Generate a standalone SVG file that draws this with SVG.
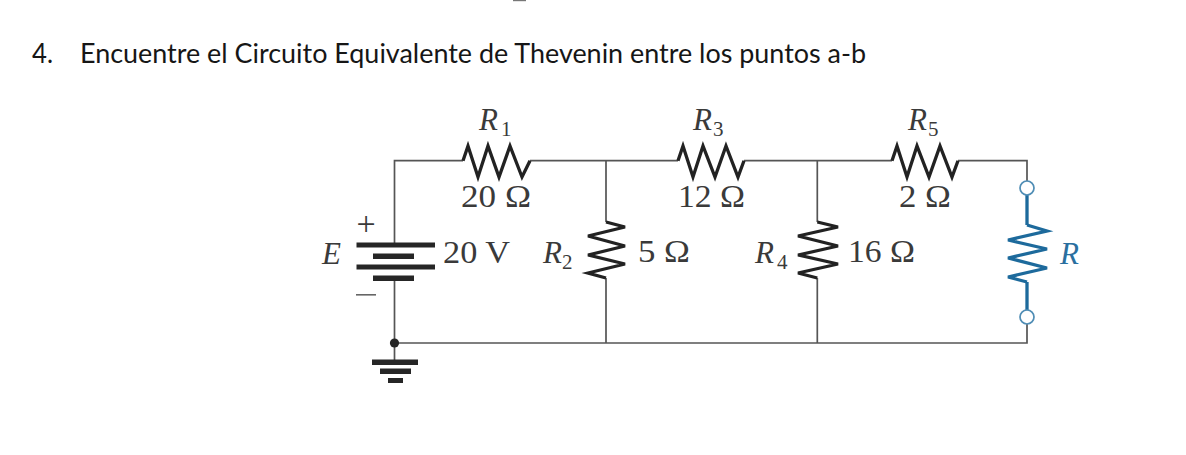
<svg xmlns="http://www.w3.org/2000/svg" width="1186" height="455" viewBox="0 0 1186 455">
<style>
text{font-family:"Liberation Serif","Times New Roman",serif;fill:#3a3a3a;font-size:31px}
.i{font-style:italic}
.s{font-size:21px}
.t{font-family:Lato,"Liberation Sans",sans-serif;font-size:26px;fill:#161616}
.w{fill:none;stroke:#555;stroke-width:1.7}
.z{fill:none;stroke:#222;stroke-width:3.3;stroke-linejoin:miter}
.b{fill:#262626}
.bl{fill:none;stroke:#1d6a9c;stroke-width:3.3}
.c{fill:#fff;stroke:#4f8db5;stroke-width:1.7}
</style>
<rect width="1186" height="455" fill="#fff"/>
<rect x="513" y="0" width="13" height="1.2" fill="#777"/>
<g id="title">
<text class="t" x="32" y="63" textLength="21" lengthAdjust="spacingAndGlyphs">4.</text>
<text class="t" x="80" y="63" textLength="786" lengthAdjust="spacingAndGlyphs">Encuentre el Circuito Equivalente de Thevenin entre los puntos a-b</text>
</g>
<g id="connectors">
<path class="w" d="M394.5 245V160.7H463M530 160.7H678M606 160.7V222M606 278V343M394.5 278V343H1027V282M744 160.7H892M817.3 160.7V222M817.3 278V343M958 160.7H1027V181"/>
<path class="w" d="M394.5 343V362"/>
<path class="bl" d="M1027 195V225M1027 282V310"/>
</g>
<g id="E">
<rect class="b" x="356.5" y="242.5" width="78.5" height="5"/>
<rect class="b" x="373" y="253.5" width="41" height="5.5"/>
<rect class="b" x="356.5" y="264.5" width="78.5" height="5"/>
<rect class="b" x="373" y="275.5" width="41" height="5.5"/>
<text x="366" y="235" text-anchor="middle" style="font-size:34px">+</text>
<rect x="356" y="294" width="20" height="1.6" fill="#666"/>
<text class="i" x="322" y="264">E</text>
<text x="443" y="263" textLength="67" lengthAdjust="spacingAndGlyphs">20 V</text>
</g>
<g id="ground">
<circle class="b" cx="394.5" cy="343" r="4.6"/>
<rect class="b" x="372" y="359.5" width="46" height="5.5"/>
<rect class="b" x="380" y="368.5" width="31" height="5.5"/>
<rect class="b" x="388" y="378" width="15" height="5"/>
</g>
<g id="R1">
<path class="z" d="M463 160.7L468 146L478 177L488 146L499 177L510 146L522 177L530 160.7"/>
<text class="i" x="479" y="130">R</text><text class="s" x="501" y="136">1</text>
<text x="461" y="207" textLength="70" lengthAdjust="spacingAndGlyphs">20 Ω</text>
</g>
<g id="R2">
<path class="z" d="M606 222L625 227L588 236L625 246L588 255L625 264L588 273L606 278"/>
<text class="i" x="543" y="263">R</text><text class="s" x="562" y="269">2</text>
<text x="638" y="262" textLength="52" lengthAdjust="spacingAndGlyphs">5 Ω</text>
</g>
<g id="R3">
<path class="z" d="M678 160.7L683 146L693 177L703 146L715 177L726 146L738 177L744 160.7"/>
<text class="i" x="693" y="130">R</text><text class="s" x="713" y="136">3</text>
<text x="678" y="207" textLength="67" lengthAdjust="spacingAndGlyphs">12 Ω</text>
</g>
<g id="R4">
<path class="z" d="M817.3 222L838 227L798 236L838 246L798 255L838 264L798 273L817.3 278"/>
<text class="i" x="755" y="263">R</text><text class="s" x="777" y="269">4</text>
<text x="848" y="262" textLength="67" lengthAdjust="spacingAndGlyphs">16 Ω</text>
</g>
<g id="R5">
<path class="z" d="M892 160.7L897 146L907 177L917 146L929 177L940 146L952 177L958 160.7"/>
<text class="i" x="908" y="130">R</text><text class="s" x="928" y="136">5</text>
<text x="899" y="207" textLength="52" lengthAdjust="spacingAndGlyphs">2 Ω</text>
</g>
<g id="R">
<circle class="c" cx="1027" cy="188" r="7"/>
<circle class="c" cx="1027" cy="317" r="7"/>
<path class="bl" d="M1027 225L1047 231L1008 240L1047 249L1008 258L1047 268L1008 277L1027 282"/>
<text class="i" x="1060" y="264" style="fill:#2a6f9f">R</text>
</g>
</svg>
